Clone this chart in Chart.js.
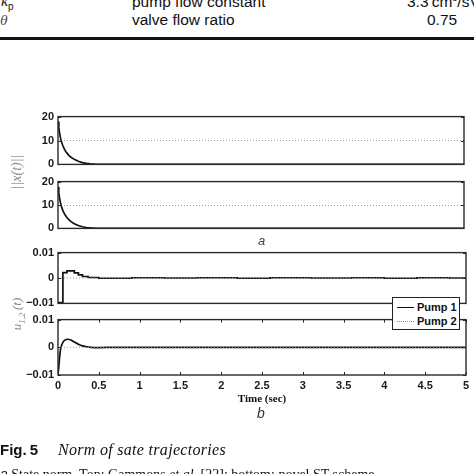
<!DOCTYPE html>
<html>
<head>
<meta charset="utf-8">
<script src="https://cdn.jsdelivr.net/npm/chart.js@4.4.1/dist/chart.umd.min.js"></script>
<style>
  html, body { margin: 0; padding: 0; background: #fff; }
  body { width: 474px; height: 474px; overflow: hidden; position: relative; font-family: "Liberation Sans", Arial, sans-serif; color: #111; }
  .t { position: absolute; white-space: nowrap; line-height: 1; }
  canvas { position: absolute; left: 0; }
  .ylab { position: absolute; color: #8a8a8a; font-family: "Liberation Serif", serif; font-style: italic; white-space: nowrap; transform: translate(-50%, -50%) rotate(-90deg); }
  #legend { position: absolute; left: 392px; top: 297px; width: 66px; height: 31px; border: 1px solid #222; background: #fff; font-weight: bold; font-size: 11px; }
  #legend .row { position: absolute; left: 4px; height: 12px; display: flex; align-items: center; }
  #legend .sw { width: 17px; margin-right: 3px; }
</style>
</head>
<body>
<!-- table fragment above the figure -->
<div class="t" style="left:1px;top:-7px;font-size:15.5px;font-style:italic;font-family:'Liberation Serif',serif;">k<sub style="font-size:10px;font-style:normal;font-family:'Liberation Sans',sans-serif;">p</sub></div>
<div class="t" style="left:132px;top:-6px;font-size:15.5px;">pump flow constant</div>
<div class="t" style="left:407px;top:-6px;font-size:15.5px;">3.3&#8201;cm<sup style="font-size:9px;">3</sup>/sV</div>
<div class="t" style="left:0px;top:12px;font-size:15.5px;font-style:italic;font-family:'Liberation Serif',serif;color:#555;">&theta;</div>
<div class="t" style="left:132px;top:12px;font-size:15.5px;">valve flow ratio</div>
<div class="t" style="left:427px;top:12px;font-size:15.5px;">0.75</div>
<div style="position:absolute;left:0;top:37px;width:474px;height:2.5px;background:#111;"></div>

<canvas id="c1" width="474" height="69" style="top:106px"></canvas>
<canvas id="c2" width="474" height="68" style="top:171px"></canvas>
<canvas id="c3" width="474" height="72" style="top:242px"></canvas>
<canvas id="c4" width="474" height="86" style="top:309px"></canvas>

<div class="ylab" style="left:17px;top:172px;font-size:14px;">||x(t)||</div>
<div class="ylab" style="left:18px;top:314px;font-size:13px;">u<sub style="font-size:9px;">1,2</sub>&#8201;(t)</div>

<div class="t" style="left:258px;top:234px;font-size:13px;font-style:italic;color:#444;">a</div>

<div id="legend">
  <div class="row" style="top:3px;"><div class="sw" style="border-top:1.5px solid #111;"></div>Pump 1</div>
  <div class="row" style="top:17px;"><div class="sw" style="border-top:1px dotted #888;"></div>Pump 2</div>
</div>

<div class="t" style="left:262px;top:393px;transform:translateX(-50%);font-size:11px;font-weight:bold;font-family:'Liberation Serif',serif;">Time (sec)</div>
<div class="t" style="left:261px;top:406px;transform:translateX(-50%);font-size:14px;font-style:italic;color:#333;">b</div>

<div class="t" style="left:0px;top:442px;font-size:15px;font-weight:bold;">Fig.&#8201;5</div>
<div class="t" style="left:58px;top:442px;font-size:16px;font-style:italic;font-family:'Liberation Serif',serif;letter-spacing:0.3px;">Norm of sate trajectories</div>
<div class="t" style="left:0px;top:467px;font-size:14px;font-family:'Liberation Serif',serif;"><i style="font-family:'Liberation Sans',sans-serif;">a</i> State norm. Top: Gammons <i>et al.</i> [22]; bottom: novel ST scheme</div>

<script>
// données
const normTimeTop = [0, 0.01, 0.02, 0.03, 0.04, 0.06, 0.08, 0.1, 0.13, 0.16, 0.2, 0.25, 0.3, 0.35, 0.4, 0.45, 0.5, 0.6, 0.8, 1, 2, 3, 4, 5];
const normTop     = [18, 15.5, 13, 11.2, 9.8, 7.8, 6.3, 5.2, 3.9, 3.0, 2.1, 1.3, 0.75, 0.4, 0.2, 0.1, 0.05, 0.02, 0, 0, 0, 0, 0, 0];
const normTimeBottom = [0, 0.01, 0.02, 0.03, 0.04, 0.06, 0.08, 0.1, 0.13, 0.16, 0.2, 0.25, 0.3, 0.35, 0.4, 0.45, 0.5, 0.6, 0.8, 1, 2, 3, 4, 5];
const normBottom     = [17.7, 15.2, 12.8, 11.0, 9.6, 7.6, 6.2, 5.1, 3.8, 2.9, 2.0, 1.25, 0.72, 0.38, 0.19, 0.09, 0.04, 0.02, 0, 0, 0, 0, 0, 0];

// commande (étages, Gammons et al.)
const uTimeTop  = [0, 0.06, 0.11, 0.2, 0.25, 0.3, 0.37, 0.5, 0.9, 1.3, 1.7, 2.2, 2.6, 3.1, 3.6, 4.0, 4.4, 4.8, 5];
const pump1Top  = [-0.0097, 0.0021, 0.0028, 0.002, 0.0012, 0.0006, 0.0002, -0.0001, 0.0001, 0, 0.0001, -0.0001, 0.0001, 0, 0.0001, -0.0001, 0.0001, 0, 0];
// commande (nouveau schéma)
const uTimeBottom = [0, 0.01, 0.02, 0.03, 0.045, 0.06, 0.08, 0.1, 0.125, 0.15, 0.2, 0.25, 0.3, 0.35, 0.4, 0.5, 0.7, 1, 2, 3, 4, 5];
const pump1Bottom = [-0.01, -0.007, -0.0035, -0.001, 0.0008, 0.0018, 0.0025, 0.0028, 0.0029, 0.0027, 0.0019, 0.0011, 0.0005, 0.0002, 0, -0.0001, 0, 0, 0, 0, 0, 0];
const pump2Time   = [0, 5];
const pump2Top    = [0, 0];
const pump2Bottom = [0, 0];

const xTicks = [0, 0.5, 1, 1.5, 2, 2.5, 3, 3.5, 4, 4.5, 5];
const yTicksNorm = [0, 10, 20];
const yTicksU = [-0.01, 0, 0.01];

const zip = (xs, ys) => xs.map((x, i) => ({ x: x, y: ys[i] }));
const fmt = v => {
  const r = Math.round(v * 1000) / 1000;
  return r < 0 ? '\u2212' + Math.abs(r) : String(r);
};
const tickFont = { family: 'Liberation Sans', size: 11, weight: 'bold' };

// cadre + graduations vers l'intérieur (style MATLAB)
const boxPlugin = {
  id: 'box',
  afterDraw(chart, args, opts) {
    const { ctx, chartArea: a, scales } = chart;
    ctx.save();
    ctx.strokeStyle = '#2a2a2a';
    ctx.lineWidth = 1;
    ctx.beginPath();
    yTicksOf(chart).forEach(v => {
      const y = Math.round(scales.y.getPixelForValue(v)) + 0.5;
      ctx.moveTo(a.left, y); ctx.lineTo(a.left + 3, y);
      ctx.moveTo(a.right, y); ctx.lineTo(a.right - 3, y);
    });
    if (opts.xTicks) {
      xTicks.forEach(v => {
        const x = Math.round(scales.x.getPixelForValue(v)) + 0.5;
        ctx.moveTo(x, a.bottom); ctx.lineTo(x, a.bottom - 3);
        ctx.moveTo(x, a.top); ctx.lineTo(x, a.top + 3);
      });
    }
    ctx.stroke();
    ctx.lineWidth = 1.4;
    ctx.strokeRect(a.left, a.top, a.right - a.left, a.bottom - a.top);
    ctx.restore();
  }
};
const yTicksOf = chart => chart.options.scales.y.min < 0 ? yTicksU : yTicksNorm;

function makePanel(id, datasets, yTicks, opt) {
  return new Chart(document.getElementById(id), {
    type: 'line',
    data: { datasets: datasets },
    plugins: [boxPlugin],
    options: {
      responsive: false,
      animation: false,
      devicePixelRatio: 1,
      layout: { padding: { top: 8, bottom: opt.showX ? 0 : 8, left: 0, right: opt.right } },
      plugins: { legend: { display: false }, tooltip: { enabled: false }, box: { xTicks: opt.showX } },
      elements: { point: { radius: 0 } },
      scales: {
        x: {
          type: 'linear', min: 0, max: 5,
          display: opt.showX,
          afterBuildTicks: s => { s.ticks = xTicks.map(v => ({ value: v })); },
          afterFit: s => { if (opt.showX) s.height = 20; },
          grid: { display: false, drawTicks: false },
          border: { display: false },
          ticks: { font: tickFont, color: '#1a1a1a', padding: 4, maxRotation: 0, autoSkip: false, callback: fmt }
        },
        y: {
          type: 'linear', min: yTicks[0], max: yTicks[yTicks.length - 1],
          afterBuildTicks: s => { s.ticks = yTicks.map(v => ({ value: v })); },
          afterFit: s => { s.width = 58; },
          grid: {
            drawTicks: false,
            color: c => (opt.dotAt !== undefined && c.tick && c.tick.value === opt.dotAt) ? '#9a9a9a' : 'rgba(0,0,0,0)',
            lineWidth: 1
          },
          border: { display: false, dash: [1, 2] },
          ticks: { font: tickFont, color: '#1a1a1a', padding: 4, autoSkip: false, callback: fmt }
        }
      }
    }
  });
}

const solid = (xs, ys) => ({ data: zip(xs, ys), borderColor: '#111', borderWidth: 1.7, fill: false, tension: 0 });
const dotted = (xs, ys, label) => ({ label: label, data: zip(xs, ys), borderColor: '#999', borderWidth: 1, borderDash: [1, 2], fill: false });

makePanel('c1', [solid(normTimeTop, normTop)], yTicksNorm, { right: 10, dotAt: 10, showX: false });
makePanel('c2', [solid(normTimeBottom, normBottom)], yTicksNorm, { right: 10, dotAt: 10, showX: false });

const p3 = solid(uTimeTop, pump1Top); p3.label = 'Pump 1'; p3.stepped = 'before';
makePanel('c3', [dotted(pump2Time, pump2Top, 'Pump 2'), p3], yTicksU, { right: 8, showX: false });
const p4 = solid(uTimeBottom, pump1Bottom); p4.label = 'Pump 1'; p4.cubicInterpolationMode = 'monotone';
makePanel('c4', [dotted(pump2Time, pump2Bottom, 'Pump 2'), p4], yTicksU, { right: 8, showX: true });
</script>
</body>
</html>
